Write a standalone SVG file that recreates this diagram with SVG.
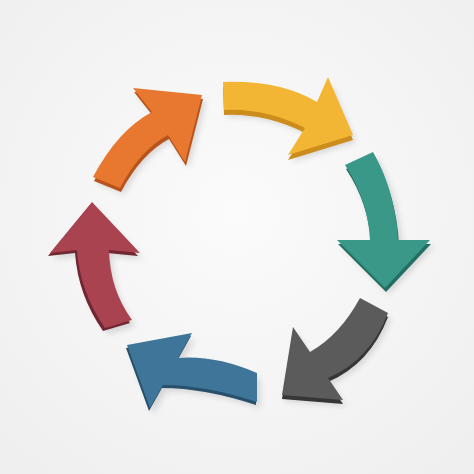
<svg xmlns="http://www.w3.org/2000/svg" width="474" height="474" viewBox="0 0 474 474">
<defs>
<radialGradient id="bg" cx="50%" cy="45%" r="70%">
<stop offset="0" stop-color="#fbfbfb"/>
<stop offset="1" stop-color="#efefef"/>
</radialGradient>
<filter id="sh" x="-20%" y="-20%" width="140%" height="140%">
<feGaussianBlur stdDeviation="3"/>
</filter>
</defs>
<style>
.shadow{fill:#000;opacity:0.13;filter:url(#sh)}
</style>
<rect width="474" height="474" fill="url(#bg)"/>

<g id="orange">
<path class="shadow" transform="translate(4,6)" d="M93,177 Q118,130 152,112 L133,88 L202,95 L185,162 L168,135 Q140,150 120,188 Z"/>
<path fill="#b9531c" transform="translate(1,4)" d="M93,177 Q118,130 152,112 L133,88 L202,95 L185,162 L168,135 Q140,150 120,188 Z"/>
<path fill="#e8772f" d="M93,177 Q118,130 152,112 L133,88 L202,95 L185,162 L168,135 Q140,150 120,188 Z"/>
</g>

<g id="yellow">
<path class="shadow" transform="translate(3,7)" d="M223,82 Q280,80 317,102 L328,77 L353,135 L288,155 L305,128 Q265,108 224,110 Z"/>
<path fill="#cc8d1c" transform="translate(0,5)" d="M223,82 Q280,80 317,102 L328,77 L353,135 L288,155 L305,128 Q265,108 224,110 Z"/>
<path fill="#f3b534" d="M223,82 Q280,80 317,102 L328,77 L353,135 L288,155 L305,128 Q265,108 224,110 Z"/>
</g>

<g id="teal">
<path class="shadow" transform="translate(4,6)" d="M345,165 Q368,200 370,240 L337,240 L385,288 L430,240 L398,240 Q395,190 373,152 Z"/>
<path fill="#226e62" transform="translate(1,4)" d="M345,165 Q368,200 370,240 L337,240 L385,288 L430,240 L398,240 Q395,190 373,152 Z"/>
<path fill="#3a9889" d="M345,165 Q368,200 370,240 L337,240 L385,288 L430,240 L398,240 Q395,190 373,152 Z"/>
</g>

<g id="gray">
<path class="shadow" transform="translate(3,6)" d="M360,298 Q340,335 310,352 L293,327 L282,395 L343,400 L328,378 Q370,360 388,313 Z"/>
<path fill="#363636" transform="translate(0,4)" d="M360,298 Q340,335 310,352 L293,327 L282,395 L343,400 L328,378 Q370,360 388,313 Z"/>
<path fill="#5b5b5b" d="M360,298 Q340,335 310,352 L293,327 L282,395 L343,400 L328,378 Q370,360 388,313 Z"/>
</g>

<g id="blue">
<path class="shadow" transform="translate(3,6)" d="M257,373 Q215,355 178,358 L192,333 L127,345 L150,408 L163,385 Q205,385 257,402 Z"/>
<path fill="#26506b" transform="translate(-1,3)" d="M257,373 Q215,355 178,358 L192,333 L127,345 L150,408 L163,385 Q205,385 257,402 Z"/>
<path fill="#3f7598" d="M257,373 Q215,355 178,358 L192,333 L127,345 L150,408 L163,385 Q205,385 257,402 Z"/>
</g>

<g id="red">
<path class="shadow" transform="translate(3,6)" d="M92,202 L50,253 L77,250 Q80,292 105,328 L132,320 Q110,290 109,250 L140,253 Z"/>
<path fill="#722632" transform="translate(-2,3)" d="M92,202 L50,253 L77,250 Q80,292 105,328 L132,320 Q110,290 109,250 L140,253 Z"/>
<path fill="#a94350" d="M92,202 L50,253 L77,250 Q80,292 105,328 L132,320 Q110,290 109,250 L140,253 Z"/>
</g>
</svg>
